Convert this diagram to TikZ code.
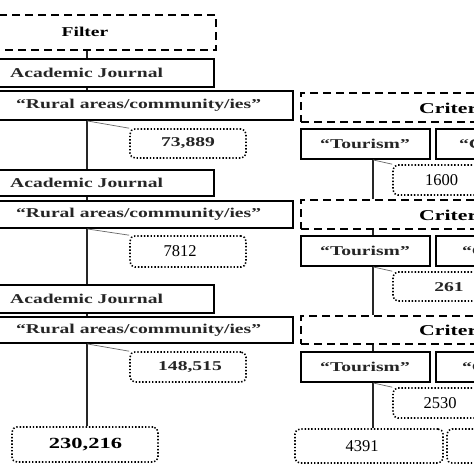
\documentclass[tikz,border=0pt]{standalone}
\usepackage{fontspec}
\setmainfont{Liberation Serif}
\newfontfamily\widefont[FakeStretch=1.45]{Liberation Serif}
\newcommand\rbox[6]{\node[#2, minimum width={(#5)-(#3)}, minimum height={(#6)-(#4)}] (#1) at ({((#3)+(#5))/2},{((#4)+(#6))/2}) {};}
\begin{document}
\begin{tikzpicture}[x=1pt,y=-1pt,
  solidbox/.style={draw, line width=1.8pt, inner sep=0},
  dashbox/.style={draw, line width=1.8pt, dash pattern=on 8pt off 5pt, inner sep=0},
  dotbox/.style={draw, line width=1.6pt, dash pattern=on 1.4pt off 1.9pt, rounded corners=5pt, inner sep=0},
  wtxt/.style={font=\widefont\bfseries\fontsize{13.5}{15}\selectfont, text=black!85, inner sep=0},
  btxt/.style={font=\widefont\bfseries\fontsize{13.5}{15}\selectfont, text=black, inner sep=0},
  crtxt/.style={font=\widefont\bfseries\fontsize{15}{17}\selectfont, text=black, inner sep=0},
  ttxt/.style={font=\fontsize{16.5}{18}\selectfont, inner sep=0},
  link/.style={line width=1.1pt, black!85},
  slant/.style={line width=0.7pt, black!60}]
\useasboundingbox (0,0) rectangle (474,474);
\clip (0,0) rectangle (474,474);
\fill[white] (0,0) rectangle (474,474);
% left column
\rbox{filter}{dashbox}{-8}{15}{216}{50}
\rbox{aj1}{solidbox}{-8}{59}{214}{87}
\rbox{ru1}{solidbox}{-8}{91}{293}{120}
\rbox{n1}{dotbox}{130}{129}{246}{158}
\rbox{aj2}{solidbox}{-8}{170}{214}{196}
\rbox{ru2}{solidbox}{-8}{201}{293}{228}
\rbox{n2}{dotbox}{130}{236}{246}{267}
\rbox{aj3}{solidbox}{-8}{285}{214}{313}
\rbox{ru3}{solidbox}{-8}{317}{293}{343}
\rbox{n3}{dotbox}{130}{352}{246}{382}
\rbox{tot}{dotbox}{12}{427}{158}{462}
\node[btxt] (tfilter) at (85,32) {Filter};
\node[wtxt, anchor=west] (taj1) at (10,73) {Academic Journal};
\node[wtxt, anchor=west] (tru1) at (16,105.5) {“Rural areas/community/ies”};
\node[wtxt] (tn1) at (188,143.5) {73,889};
\node[wtxt, anchor=west] (taj2) at (10,183) {Academic Journal};
\node[wtxt, anchor=west] (tru2) at (16,214.5) {“Rural areas/community/ies”};
\node[ttxt] (tn2) at (180,251.5) {7812};
\node[wtxt, anchor=west] (taj3) at (10,299) {Academic Journal};
\node[wtxt, anchor=west] (tru3) at (16,330) {“Rural areas/community/ies”};
\node[wtxt] (tn3) at (190,367) {148,515};
\node[btxt, font=\widefont\bfseries\fontsize{15.5}{17}\selectfont] (ttot) at (85.5,444.5) {230,216};
\coordinate (L) at (87,0);
\draw[link] (filter.south -| L) -- (aj1.north -| L);
\draw[link] (aj1.south -| L) -- (ru1.north -| L);
\draw[link] (ru1.south -| L) -- (aj2.north -| L);
\draw[link] (aj2.south -| L) -- (ru2.north -| L);
\draw[link] (ru2.south -| L) -- (aj3.north -| L);
\draw[link] (aj3.south -| L) -- (ru3.north -| L);
\draw[link] (ru3.south -| L) -- (tot.north -| L);
\draw[slant] (ru1.south -| L) -- (n1.north west);
\draw[slant] (ru2.south -| L) -- (n2.north west);
\draw[slant] (ru3.south -| L) -- (n3.north west);
% right column
\rbox{cr1}{dashbox}{301}{93}{620}{122}
\rbox{to1}{solidbox}{301}{129}{430}{159}
\rbox{c1}{solidbox}{436}{129}{620}{159}
\rbox{m1}{dotbox}{393}{165}{520}{195}
\rbox{cr2}{dashbox}{301}{200}{620}{229}
\rbox{to2}{solidbox}{301}{236}{430}{266}
\rbox{c2}{solidbox}{436}{236}{620}{266}
\rbox{m2}{dotbox}{393}{272}{520}{301}
\rbox{cr3}{dashbox}{301}{316}{620}{344}
\rbox{to3}{solidbox}{301}{352}{430}{382}
\rbox{c3}{solidbox}{436}{352}{620}{382}
\rbox{m3}{dotbox}{393}{388}{520}{418}
\rbox{r1}{dotbox}{295}{429}{443}{463}
\rbox{r2}{dotbox}{447}{429}{620}{463}
\node[crtxt, anchor=west] (tcr1) at (419,108) {Criteria};
\node[wtxt] (tto1) at (365,144) {“Tourism”};
\node[wtxt, anchor=west] (tc1) at (459,144) {“C};
\node[ttxt] (tm1) at (441.5,180) {1600};
\node[crtxt, anchor=west] (tcr2) at (419,215) {Criteria};
\node[wtxt] (tto2) at (365,251) {“Tourism”};
\node[wtxt, anchor=west] (tc2) at (462,251) {“C};
\node[wtxt] (tm2) at (449,287) {261};
\node[crtxt, anchor=west] (tcr3) at (419,330) {Criteria};
\node[wtxt] (tto3) at (365,367) {“Tourism”};
\node[wtxt, anchor=west] (tc3) at (462,367) {“C};
\node[ttxt] (tm3) at (440,403) {2530};
\node[ttxt] (tr1) at (362,446) {4391};
\coordinate (R) at (373,0);
\draw[link] (to1.south -| R) -- (cr2.north -| R);
\draw[link] (cr2.south -| R) -- (to2.north -| R);
\draw[link] (to2.south -| R) -- (cr3.north -| R);
\draw[link] (cr3.south -| R) -- (to3.north -| R);
\draw[link] (to3.south -| R) -- (r1.north -| R);
\draw[slant] (to1.south -| R) -- (m1.north west);
\draw[slant] (to2.south -| R) -- (m2.north west);
\draw[slant] (to3.south -| R) -- (m3.north west);
\end{tikzpicture}
\end{document}
